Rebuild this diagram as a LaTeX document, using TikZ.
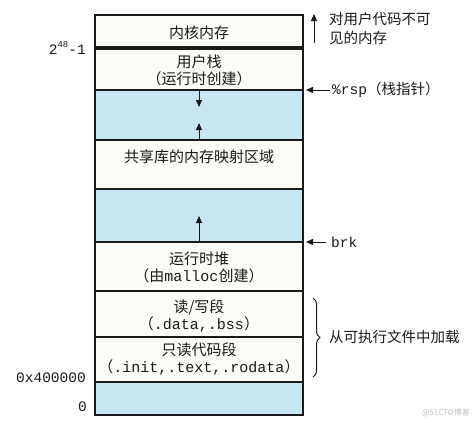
\documentclass[tikz,border=0pt]{standalone}
\usepackage{fontspec}
\setmainfont{Noto Sans CJK SC}
\setmonofont{Liberation Mono}
\usetikzlibrary{arrows.meta,decorations.pathreplacing}
\definecolor{segwhite}{HTML}{FDFBF6}
\definecolor{segblue}{HTML}{C6E6F2}
\definecolor{inkc}{HTML}{1A1A1A}
\begin{document}
\begin{tikzpicture}[x=1pt,y=-1pt,
  seg/.style={draw=inkc, line width=1.4pt, minimum width=208pt, anchor=north west, inner sep=0pt, outer sep=0pt},
  wseg/.style={seg, fill=segwhite},
  bseg/.style={seg, fill=segblue},
  txt/.style={font=\fontsize{15}{17}\selectfont, text=inkc, inner sep=0pt, align=center},
  side/.style={font=\fontsize{14.5}{19}\selectfont, text=inkc, inner sep=0pt, align=left},
  mono/.style={font=\fontsize{14.5}{17}\selectfont\ttfamily, text=inkc, inner sep=0pt},
  arr/.style={draw=inkc, line width=1pt, -{Triangle[length=7pt,width=6pt]}}
]
\useasboundingbox (0,0) rectangle (474,423);
\fill[white] (0,0) rectangle (474,423);

% segments
\node[wseg, minimum height=33pt] (kernel) at (95,15) {};
\node[wseg, minimum height=42pt] (ustack) at (95,48) {};
\node[bseg, minimum height=50pt] (blue1) at (95,90) {};
\node[wseg, minimum height=49pt] (shared) at (95,140) {};
\node[bseg, minimum height=53pt] (blue2) at (95,189) {};
\node[wseg, minimum height=49pt] (heap) at (95,242) {};
\node[wseg, minimum height=46pt] (rw) at (95,291) {};
\node[wseg, minimum height=45pt] (ro) at (95,337) {};
\node[bseg, minimum height=33pt] (blue3) at (95,382) {};
\draw[draw=inkc, line width=3.2pt] (kernel.south west) -- (kernel.south east);
\draw[draw=inkc, line width=2.2pt] (blue3.south west) -- (blue3.south east);

% texts in segments
\node[txt] (tkernel) at (199,33) {内核内存};
\node[txt] (tustack) at (199,70) {用户栈\\（运行时创建）};
\node[txt] (tshared) at (199,157) {共享库的内存映射区域};
\node[txt] (theap) at (199,267.5) {运行时堆\\（由\texttt{malloc}创建）};
\node[txt] (trw) at (199,316) {读/写段\\（\texttt{.data,.bss}）};
\node[txt] (tro) at (199,358.5) {只读代码段\\（\texttt{.init,.text,.rodata}）};

% inner arrows
\coordinate (d1) at (199,107);
\coordinate (u1) at (199,123);
\coordinate (u2) at (199,216);
\draw[arr] (ustack.south) -- (d1);
\draw[arr] (shared.north) -- (u1);
\draw[arr] (heap.north) -- (u2);

% left labels
\node[mono, anchor=east] (l248) at (86,48) {2\raisebox{0.45em}{\fontsize{9}{9}\selectfont 48}-1};
\node[mono, anchor=east] (l4m) at (86,378) {0x400000};
\node[mono, anchor=east] (l0) at (87,407) {0};

% right side
\coordinate (kup0) at (314,43);
\coordinate (kup1) at (314,14);
\draw[arr] (kup0) -- (kup1);
\node[side, anchor=north west] (tinvis) at (329,12) {对用户代码不可\\见的内存};

\node[mono, anchor=west] (trsp) at (332,90) {\%rsp\rmfamily\fontsize{14.5}{17}\selectfont（栈指针）};
\coordinate (rspa) at (330,90);
\coordinate (rspb) at (306,90);
\draw[arr] (rspa) -- (rspb);

\node[mono, anchor=west] (tbrk) at (331,242) {brk};
\coordinate (brka) at (326,242);
\coordinate (brkb) at (306,242);
\draw[arr] (brka) -- (brkb);

\coordinate (bt) at (313,298);
\coordinate (bb) at (313,377);
\draw[draw=inkc, line width=1pt, decorate, decoration={brace, amplitude=7pt}] (bt) -- (bb);
\node[side, anchor=west] (tload) at (329,337) {从可执行文件中加载};

\node[font=\fontsize{8}{8}\selectfont, text=black!25, anchor=east, inner sep=0pt] (wm) at (470,413) {@51CTO博客};
\end{tikzpicture}
\end{document}
